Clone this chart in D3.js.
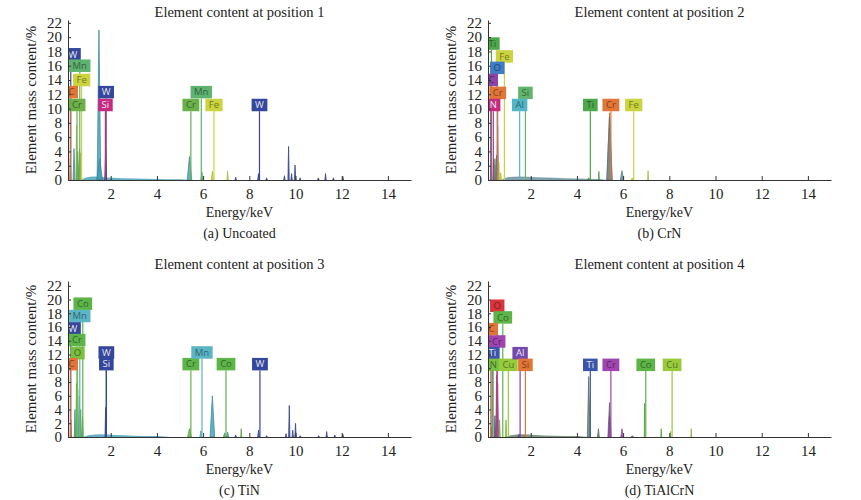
<!DOCTYPE html>
<html>
<head>
<meta charset="utf-8">
<script src="https://cdn.jsdelivr.net/npm/d3@7"></script>
<style>body{margin:0;background:#fff}</style>
</head>
<body>
<svg></svg>
<script>
const width = 861;
const height = 500;

// ---- data ----
const titles = ["Element content at position 1", "Element content at position 2",
                "Element content at position 3", "Element content at position 4"];
const captions = ["(a) Uncoated", "(b) CrN", "(c) TiN", "(d) TiAlCrN"];
const xTicks = [2, 4, 6, 8, 10, 12, 14];
const yTicks = [0, 2, 4, 6, 8, 10, 12, 14, 16, 18, 20, 22];

// labels: [element, energy keV, label height %]
const labelsA = [["W", 0.27, 17.6], ["Mn", 0.66, 16.0], ["Fe", 0.74, 14.0], ["C", 0.25, 12.3],
  ["Cr", 0.54, 10.5], ["W", 1.80, 12.3], ["Si", 1.77, 10.5], ["Cr", 5.47, 10.5],
  ["Mn", 5.92, 12.3], ["Fe", 6.47, 10.5], ["W", 8.44, 10.5]];
const labelsB = [["Ti", 0.30, 19.1], ["Fe", 0.86, 17.3], ["O", 0.55, 15.7], ["C", 0.27, 14.0],
  ["Cr", 0.57, 12.2], ["N", 0.38, 10.5], ["Si", 1.77, 12.2], ["Al", 1.52, 10.5],
  ["Ti", 4.58, 10.5], ["Cr", 5.47, 10.5], ["Fe", 6.46, 10.5]];
const labelsC = [["Co", 0.79, 19.4], ["Mn", 0.66, 17.6], ["W", 0.27, 15.8], ["Cr", 0.54, 14.1],
  ["O", 0.56, 12.2], ["C", 0.25, 10.6], ["W", 1.81, 12.3], ["Si", 1.81, 10.6],
  ["Cr", 5.47, 10.6], ["Mn", 5.95, 12.3], ["Co", 6.99, 10.6], ["W", 8.46, 10.6]];
const labelsD = [["O", 0.55, 19.1], ["Co", 0.79, 17.4], ["C", 0.27, 15.7], ["Cr", 0.54, 13.9],
  ["Ti", 0.33, 12.2], ["N", 0.38, 10.5], ["Cu", 1.03, 10.5], ["Al", 1.54, 12.2],
  ["Si", 1.77, 10.5], ["Ti", 4.58, 10.5], ["Cr", 5.47, 10.5], ["Co", 6.98, 10.5], ["Cu", 8.12, 10.5]];

// peaks: [energy keV, height %, half width keV, element]
const peaksA = [[0.25, 3.0, 0.03, "C"], [0.41, 4.4, 0.04, "spec"], [0.52, 7.6, 0.03, "Fe"],
  [0.57, 4.0, 0.05, "Cr"], [0.65, 4.3, 0.04, "Mn"], [0.70, 3.8, 0.03, "Fe"],
  [1.49, 21.0, 0.08, "spec"], [1.52, 3.0, 0.12, "spec"], [1.78, 4.4, 0.04, "W"],
  [5.41, 3.3, 0.1, "spec"], [5.95, 1.1, 0.05, "Mn"], [6.40, 1.2, 0.05, "Fe"],
  [7.06, 1.2, 0.03, "Fe"], [7.41, 0.4, 0.03, "W"], [8.40, 0.9, 0.04, "W"], [8.75, 0.3, 0.03, "W"],
  [9.52, 0.6, 0.03, "W"], [9.70, 4.7, 0.03, "W"], [9.83, 0.9, 0.03, "W"], [9.98, 2.1, 0.03, "W"],
  [10.2, 0.3, 0.03, "W"], [10.99, 0.3, 0.03, "W"], [11.3, 0.9, 0.03, "W"], [11.64, 0.3, 0.03, "W"],
  [12.05, 0.5, 0.03, "W"]];
const peaksB = [[0.28, 2.0, 0.03, "C"], [0.39, 3.0, 0.03, "N"], [0.45, 3.0, 0.05, "Ti"],
  [0.52, 3.5, 0.04, "O"], [0.57, 7.6, 0.04, "Cr"], [0.62, 2.5, 0.03, "Fe"], [0.70, 1.0, 0.03, "Fe"],
  [4.51, 0.3, 0.05, "Ti"], [4.95, 1.2, 0.02, "Ti"], [5.41, 9.4, 0.11, "Cr"], [5.41, 8.8, 0.12, "spec"],
  [5.95, 1.3, 0.07, "spec"], [6.40, 0.3, 0.05, "Fe"], [7.08, 1.3, 0.02, "Fe"]];
const peaksC = [[0.27, 2.5, 0.03, "C"], [0.45, 4.0, 0.03, "spec"], [0.52, 7.8, 0.04, "O"],
  [0.57, 7.0, 0.03, "Cr"], [0.64, 6.0, 0.04, "Mn"], [0.70, 4.0, 0.03, "Co"], [0.78, 3.0, 0.03, "Co"],
  [1.78, 4.3, 0.03, "W"], [5.41, 1.2, 0.08, "Cr"], [5.90, 0.9, 0.04, "Mn"], [6.40, 6.0, 0.1, "spec"],
  [6.93, 0.6, 0.05, "Co"], [7.06, 0.7, 0.05, "spec"], [7.41, 0.3, 0.03, "W"], [7.65, 1.2, 0.02, "Co"],
  [8.40, 1.0, 0.04, "W"], [8.75, 0.2, 0.03, "W"], [9.59, 0.5, 0.03, "W"], [9.73, 4.6, 0.03, "W"],
  [9.88, 1.0, 0.03, "W"], [10.0, 2.0, 0.03, "W"], [10.2, 0.2, 0.03, "W"], [11.0, 0.2, 0.03, "W"],
  [11.35, 0.8, 0.03, "W"], [11.7, 0.3, 0.03, "W"], [12.05, 0.4, 0.03, "W"]];
const peaksD = [[0.28, 1.5, 0.03, "C"], [0.45, 3.1, 0.03, "Ti"], [0.52, 9.0, 0.03, "O"],
  [0.57, 7.8, 0.04, "Cr"], [0.65, 2.5, 0.03, "N"], [0.93, 2.5, 0.03, "Cu"], [1.49, 0.4, 0.05, "Al"],
  [1.74, 0.3, 0.05, "Si"], [4.51, 8.8, 0.06, "spec"], [4.93, 1.2, 0.04, "spec"], [5.41, 5.0, 0.07, "spec"],
  [5.41, 3.0, 0.04, "Cr"], [5.95, 1.2, 0.05, "Cr"], [6.40, 0.2, 0.05, "spec"], [6.93, 4.9, 0.015, "Co"],
  [7.65, 1.2, 0.02, "Co"], [8.05, 0.8, 0.02, "Cu"], [8.95, 1.2, 0.02, "Cu"]];

// low background continuum: [energy keV, %]
const humpA = [[0.7, 0], [0.9, 0.3], [1.3, 0.5], [2, 0.3], [3, 0.2], [4, 0.15], [5, 0.1], [5.4, 0]];
const humpB = [[0.7, 0], [1.0, 0.4], [1.5, 0.5], [2.2, 0.4], [3, 0.3], [4, 0.2], [5, 0.15], [5.3, 0]];
const humpC = [[0.8, 0], [1.1, 0.3], [1.5, 0.4], [2.2, 0.3], [3, 0.2], [4, 0.15], [4.6, 0]];
const humpD = [[0.9, 0], [1.2, 0.3], [1.6, 0.4], [2.2, 0.3], [3, 0.2], [4, 0.15], [4.5, 0]];

// ---- styles ----
const colorsA = {W: "#34479c", Mn: "#5db36f", Fe: "#cbd43f", C: "#e27538", Cr: "#6cb04a", Si: "#c62b80", spec: "#3f9db3"};
const colorsB = {Ti: "#4ba84b", Fe: "#cbd43f", O: "#3f7ec6", C: "#8e44a6", Cr: "#e27538", N: "#c62b80",
  Si: "#62b56b", Al: "#52b6c6", spec: "#5f8a9a"};
const colorsC = {Co: "#5db548", Mn: "#5ab5c5", W: "#34479c", Cr: "#5db548", O: "#7abf3f", C: "#e27538",
  Si: "#34479c", spec: "#3f9db3"};
const colorsD = {O: "#d9343c", Co: "#5db548", C: "#e27538", Cr: "#a045b0", Ti: "#3b55aa", N: "#78c143",
  Cu: "#98cb3c", Al: "#7449ad", Si: "#e27538", spec: "#5d7d63"};
const lightText = ["#34479c", "#c62b80", "#3b55aa", "#7449ad"];

const serif = '"Liberation Serif", "Times New Roman", serif';
const sans = '"Open Sans", "Liberation Sans", sans-serif';

const layouts = [
  {id: "a", dx: 0, top: 20, base: 180, yMax: 22.4, titleY: 17},
  {id: "b", dx: 420, top: 20, base: 180, yMax: 22.4, titleY: 17},
  {id: "c", dx: 0, top: 281, base: 437, yMax: 22.7, titleY: 269},
  {id: "d", dx: 420, top: 281, base: 437, yMax: 22.7, titleY: 269}
];

const svg = d3.select("svg")
  .attr("width", width)
  .attr("height", height);

function drawPanel(p, title, caption, labels, peaks, hump, colors) {
  const x = d3.scaleLinear().domain([0.15, 15]).range([68 + p.dx, 411 + p.dx]);
  const y = d3.scaleLinear().domain([0, p.yMax]).range([p.base, p.top]);
  const g = svg.append("g");

  g.append("clipPath").attr("id", "clip" + p.id)
    .append("rect")
    .attr("x", x.range()[0]).attr("y", 0)
    .attr("width", x.range()[1] - x.range()[0]).attr("height", p.base);

  const plot = g.append("g").attr("clip-path", `url(#clip${p.id})`);

  const area = d3.area().x(d => x(d[0])).y0(y(0)).y1(d => y(d[1]));

  plot.append("path")
    .datum(hump)
    .attr("d", area.curve(d3.curveMonotoneX))
    .attr("fill", colors.spec)
    .attr("fill-opacity", 0.8);

  const spike = d3.area().x(d => x(d[0])).y0(y(0)).y1(d => y(d[1]));
  plot.selectAll("path.peak")
    .data(peaks)
    .join("path")
    .attr("class", "peak")
    .attr("d", d => spike([[d[0] - d[2], 0], [d[0], d[1]], [d[0] + d[2], 0]]))
    .attr("fill", d => colors[d[3]])
    .attr("fill-opacity", 0.8)
    .attr("stroke", d => d3.color(colors[d[3]]).darker(0.5))
    .attr("stroke-width", 0.7);

  // label lines and boxes
  const boxH = 12.5;
  const lab = plot.selectAll("g.lab")
    .data(labels)
    .join("g")
    .attr("class", "lab");

  lab.append("line")
    .attr("x1", d => x(d[1])).attr("x2", d => x(d[1]))
    .attr("y1", d => y(d[2]) + boxH / 2).attr("y2", y(0))
    .attr("stroke", d => colors[d[0]])
    .attr("stroke-width", 1.2);

  lab.each(function(d) {
    const s = d3.select(this);
    const rect = s.append("rect");
    const c = colors[d[0]];
    const t = s.append("text")
      .attr("y", y(d[2]))
      .attr("dy", "0.35em")
      .attr("text-anchor", "middle")
      .attr("font-family", sans)
      .attr("font-size", 9.5)
      .attr("fill", lightText.includes(c) ? "#e9e6f2" : d3.color(c).darker(1.6))
      .text(d[0]);
    const w = Math.max(t.node().getComputedTextLength() + 7, 13);
    // boxes next to the axis are pushed right so their text stays readable
    const cx = Math.max(x(d[1]), x.range()[0] + w / 2 - 3);
    t.attr("x", cx);
    rect.attr("x", cx - w / 2)
      .attr("y", y(d[2]) - boxH / 2)
      .attr("width", w)
      .attr("height", boxH)
      .attr("fill", c);
  });

  // axes
  const ax = g.append("g")
    .attr("transform", `translate(0,${p.base})`)
    .call(d3.axisBottom(x).tickValues(xTicks).tickSizeInner(-4).tickSizeOuter(0).tickPadding(8));
  const ay = g.append("g")
    .attr("transform", `translate(${x.range()[0]},0)`)
    .call(d3.axisLeft(y).tickValues(yTicks).tickSizeInner(-3).tickSizeOuter(0).tickPadding(6));
  [ax, ay].forEach(a => {
    a.attr("font-family", serif).attr("font-size", 15);
    a.selectAll("path, line").attr("stroke", "#333");
    a.selectAll("text").attr("fill", "#222");
  });

  const cx = (x.range()[0] + x.range()[1]) / 2;
  g.append("text")
    .attr("x", cx).attr("y", p.titleY)
    .attr("text-anchor", "middle")
    .attr("font-family", serif).attr("font-size", 14.5).attr("fill", "#222")
    .text(title);
  g.append("text")
    .attr("x", cx).attr("y", p.base + 37)
    .attr("text-anchor", "middle")
    .attr("font-family", serif).attr("font-size", 14).attr("fill", "#222")
    .text("Energy/keV");
  g.append("text")
    .attr("x", cx).attr("y", p.base + 58)
    .attr("text-anchor", "middle")
    .attr("font-family", serif).attr("font-size", 14).attr("fill", "#222")
    .text(caption);
  g.append("text")
    .attr("transform", `translate(${31 + p.dx},${(p.top + p.base) / 2}) rotate(-90)`)
    .attr("dy", "0.35em")
    .attr("text-anchor", "middle")
    .attr("font-family", serif).attr("font-size", 15).attr("fill", "#222")
    .text("Element mass content/%");
}

drawPanel(layouts[0], titles[0], captions[0], labelsA, peaksA, humpA, colorsA);
drawPanel(layouts[1], titles[1], captions[1], labelsB, peaksB, humpB, colorsB);
drawPanel(layouts[2], titles[2], captions[2], labelsC, peaksC, humpC, colorsC);
drawPanel(layouts[3], titles[3], captions[3], labelsD, peaksD, humpD, colorsD);
</script>
</body>
</html>
